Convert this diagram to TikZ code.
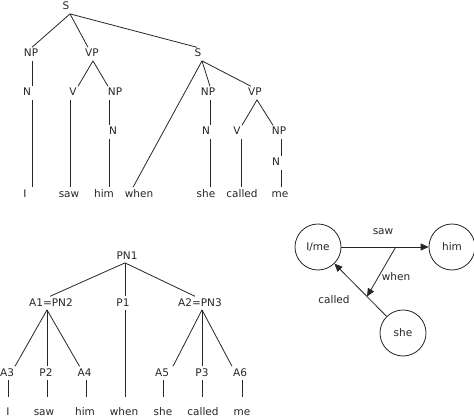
\documentclass[tikz,border=0pt]{standalone}
\usepackage{fontspec}
\setmainfont{DejaVu Sans}
\usetikzlibrary{arrows.meta,calc}
\begin{document}
\begin{tikzpicture}[x=1pt,y=-1pt,
  lbl/.style={anchor=base,inner xsep=1pt,inner ysep=1.5pt,text height=8pt,text depth=2.2pt,font=\fontsize{10.5}{12}\selectfont,text=black!85},
  wrd/.style={lbl,inner ysep=9.5pt},
  edge/.style={line width=0.8pt,draw=black!85},
  stnode/.style={circle,draw=black!85,line width=0.8pt,minimum size=46pt,inner sep=0pt,font=\fontsize{10.5}{12}\selectfont,text=black!85},
  arr/.style={edge,-{Triangle[length=8pt,width=7pt]}}]
\useasboundingbox (0,0) rectangle (474,417);

% ---------- top tree ----------
\node[lbl] (S0) at (66,10) {S};
\node[lbl] (NPa) at (31,57) {NP};
\node[lbl] (Na) at (27,96) {N};
\node[lbl] (Ia) at (25,197) {I};
\node[lbl] (VPa) at (92,57) {VP};
\node[lbl] (Va) at (73,96) {V};
\node[lbl] (sawa) at (69,197) {saw};
\node[lbl] (NPb) at (115,96) {NP};
\node[lbl] (Nb) at (113,135) {N};
\node[lbl] (hima) at (104,197) {him};
\node[lbl] (whena) at (139,197) {when};
\node[lbl] (S1) at (198,57) {S};
\node[lbl] (NPc) at (208,96) {NP};
\node[lbl] (Nc) at (206,135) {N};
\node[lbl] (shea) at (206,197) {she};
\node[lbl] (VPb) at (255,96) {VP};
\node[lbl] (Vb) at (237,135) {V};
\node[lbl] (calleda) at (242,197) {called};
\node[lbl] (NPd) at (279,135) {NP};
\node[lbl] (Nd) at (276,166) {N};
\node[lbl] (mea) at (280,197) {me};

\draw[edge] ([xshift=4]S0.south) -- ([xshift=1]NPa.north);
\draw[edge] ([xshift=4]S0.south) -- ([xshift=-4]VPa.north);
\draw[edge] ([xshift=4]S0.south) -- ([xshift=-1]S1.north);
\draw[edge] ([xshift=1]NPa.south) -- ([xshift=5]Na.north);
\draw[edge] ([xshift=5]Na.south) -- ([xshift=7]Ia.north);
\draw[edge] ([xshift=1]VPa.south) -- ([xshift=5]Va.north);
\draw[edge] ([xshift=1]VPa.south) -- ([xshift=-7]NPb.north);
\draw[edge] ([xshift=-3]Va.south) -- ([xshift=1]sawa.north);
\draw[edge] ([xshift=-6]NPb.south) -- ([xshift=-4]Nb.north);
\draw[edge] ([xshift=-4]Nb.south) -- ([xshift=5]hima.north);
\draw[edge] ([xshift=4]S1.south) -- ([xshift=-6]whena.north);
\draw[edge] ([xshift=4]S1.south) -- ([xshift=2]NPc.north);
\draw[edge] ([xshift=4]S1.south) -- ([xshift=-4]VPb.north);
\draw[edge] ([xshift=2]NPc.south) -- ([xshift=4]Nc.north);
\draw[edge] ([xshift=4]Nc.south) -- ([xshift=4]shea.north);
\draw[edge] ([xshift=2]VPb.south) -- ([xshift=5]Vb.north);
\draw[edge] ([xshift=2]VPb.south) -- ([xshift=-6]NPd.north);
\draw[edge] ([xshift=4]Vb.south) -- ([xshift=-1]calleda.north);
\draw[edge] ([xshift=2]NPd.south) -- ([xshift=5]Nd.north);
\draw[edge] ([xshift=5]Nd.south) -- ([xshift=1]mea.north);

% ---------- bottom tree ----------
\node[lbl] (PN1) at (127,259) {PN1};
\node[lbl] (A1) at (51,306) {A1=PN2};
\node[lbl] (P1) at (123,306) {P1};
\node[lbl] (A2) at (200,306) {A2=PN3};
\node[lbl] (A3) at (7,376) {A3};
\node[lbl] (P2) at (46,376) {P2};
\node[lbl] (A4) at (84.5,376) {A4};
\node[lbl] (A5) at (162,376) {A5};
\node[lbl] (P3) at (202,376) {P3};
\node[lbl] (A6) at (240,376) {A6};
\node[wrd] (Ib) at (8,415) {I};
\node[wrd] (sawb) at (44,415) {saw};
\node[wrd] (himb) at (85,415) {him};
\node[wrd] (whenb) at (124,415) {when};
\node[wrd] (sheb) at (163,415) {she};
\node[wrd] (calledb) at (203,415) {called};
\node[wrd] (meb) at (242,415) {me};

\draw[edge] ([xshift=-2]PN1.south) -- ([xshift=-1]A1.north);
\draw[edge] ([xshift=-2]PN1.south) -- ([xshift=2]P1.north);
\draw[edge] ([xshift=-2]PN1.south) -- ([xshift=-5]A2.north);
\draw[edge] ([xshift=2]P1.south) -- ([xshift=1]whenb.north);
\draw[edge] ([xshift=-4]A1.south) -- ([xshift=8]A3.north);
\draw[edge] ([xshift=-4]A1.south) -- ([xshift=1]P2.north);
\draw[edge] ([xshift=-4]A1.south) -- ([xshift=-5]A4.north);
\draw[edge] ([xshift=1]A3.south) -- (Ib.north);
\draw[edge] ([xshift=1]P2.south) -- ([xshift=3]sawb.north);
\draw[edge] ([xshift=1.5]A4.south) -- ([xshift=1]himb.north);
\draw[edge] ([xshift=2]A2.south) -- ([xshift=11]A5.north);
\draw[edge] ([xshift=2]A2.south) -- (P3.north);
\draw[edge] ([xshift=2]A2.south) -- ([xshift=-8]A6.north);
\draw[edge] ([xshift=1]A5.south) -- (sheb.north);
\draw[edge] (P3.south) -- ([xshift=-1]calledb.north);
\draw[edge] ([xshift=2]A6.south) -- (meb.north);

% ---------- graph ----------
\node[stnode] (Ime) at (318,247) {I/me};
\node[stnode] (him) at (452,247) {him};
\node[stnode] (she) at (403,333) {she};
\draw[arr] (Ime) -- (him);
\coordinate (w1) at ($(Ime)!0.58!(him)$);
\coordinate (w2) at ($(she)!0.4235!(Ime)$);
\draw[arr] (w1) -- (w2);
\draw[arr] (she) -- (Ime);
\node[lbl,anchor=center] (sawl) at (383,232) {saw};
\node[lbl,anchor=center] (whenl) at (396,278) {when};
\node[lbl,anchor=center] (calledl) at (334,301) {called};
\end{tikzpicture}
\end{document}
